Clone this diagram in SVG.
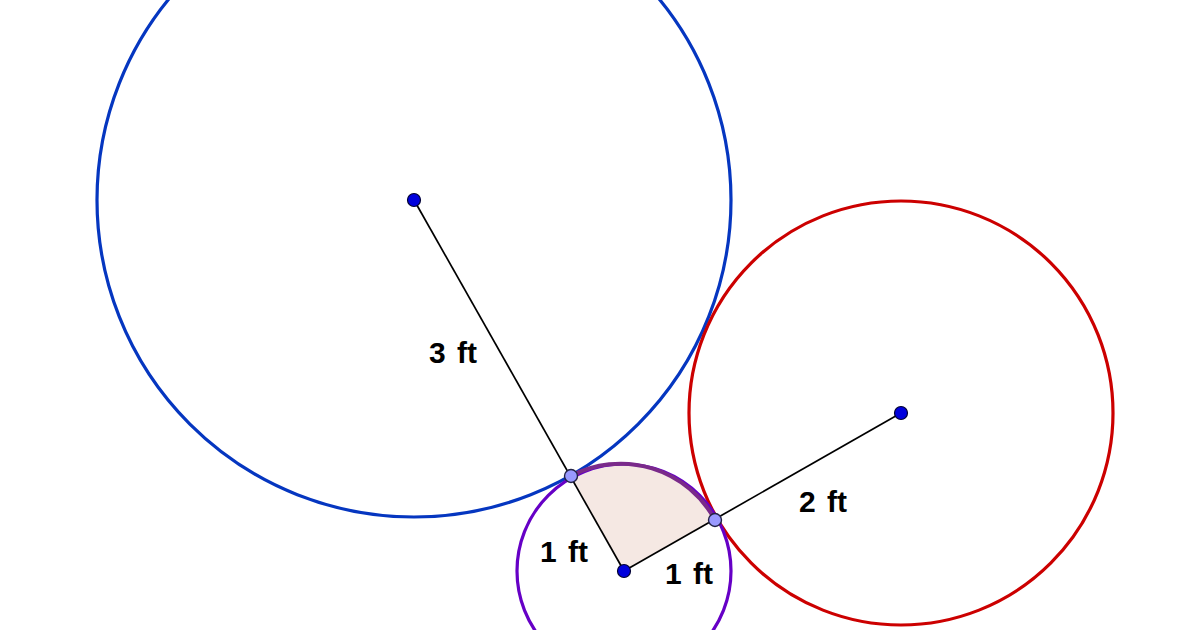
<svg xmlns="http://www.w3.org/2000/svg" width="1200" height="630" viewBox="0 0 1200 630">
<style>
.lbl{font-family:"Liberation Sans",Arial,sans-serif;font-weight:bold;font-size:30px;fill:#000}
.seg{stroke:#000;stroke-width:1.7;fill:none}
.ctr{fill:#0000dd;stroke:#000033;stroke-width:1.2}
.tan{fill:#9999ff;stroke:#222244;stroke-width:1.4}
</style>
<rect width="1200" height="630" fill="#fff"/>
<g id="sector"><path d="M624 571 L571 476 A107 107 0 0 1 715 520 Z" fill="#f5e8e3" stroke="none"/></g>
<g id="blue-circle"><circle cx="414" cy="200" r="317" fill="none" stroke="#0536c0" stroke-width="3.2"/></g>
<g id="red-circle"><circle cx="901" cy="413" r="212" fill="none" stroke="#cc0000" stroke-width="3.2"/></g>
<g id="purple-circle"><circle cx="624" cy="571" r="107" fill="none" stroke="#6600c6" stroke-width="3.2"/>
<path d="M571 476 A107 107 0 0 1 715 520" fill="none" stroke="#7a2a8a" stroke-width="4"/></g>
<g id="connectors">
<line class="seg" x1="414" y1="200" x2="624" y2="571"/>
<line class="seg" x1="624" y1="571" x2="901" y2="413"/>
</g>
<g id="points">
<circle class="ctr" cx="414" cy="200" r="6.5"/>
<circle class="ctr" cx="901" cy="413" r="6.5"/>
<circle class="ctr" cx="624" cy="571" r="6.5"/>
<circle class="tan" cx="571" cy="476" r="6.5"/>
<circle class="tan" cx="715" cy="520" r="6.5"/>
</g>
<g id="labels">
<text class="lbl" x="429" y="363" word-spacing="3">3 ft</text>
<text class="lbl" x="799" y="512" word-spacing="3">2 ft</text>
<text class="lbl" x="540" y="562" word-spacing="3">1 ft</text>
<text class="lbl" x="665" y="584" word-spacing="3">1 ft</text>
</g>
</svg>
